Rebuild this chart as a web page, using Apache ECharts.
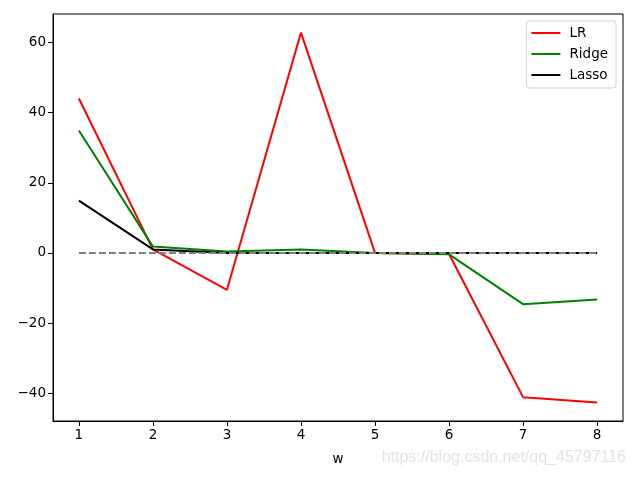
<!DOCTYPE html>
<html><head><meta charset="utf-8">
<script src="https://cdn.jsdelivr.net/npm/echarts@6/dist/echarts.min.js"></script>
<style>html,body{margin:0;padding:0;background:#fff}#c{width:635px;height:478px}</style>
</head><body><div id="c"></div>
<script>
const xValues = [1, 2, 3, 4, 5, 6, 7, 8];
const lrValues = [44.0, 1.0, -10.5, 62.8, 0.0, -0.3, -41.1, -42.6];
const ridgeValues = [34.9, 1.8, 0.4, 1.0, 0.0, -0.4, -14.6, -13.3];
const lassoValues = [14.9, 1.0, 0.0, 0.0, 0.0, 0.0, 0.0, 0.0];
const zeroLine = [0, 0];
const xTicks = [1, 2, 3, 4, 5, 6, 7, 8];
const yTicks = [-40, -20, 0, 20, 40, 60];
const seriesNames = ['LR', 'Ridge', 'Lasso'];

const font = 'DejaVu Sans';
const pair = (xs, ys) => xs.map((x, i) => [x, ys[i]]);

const chart = echarts.init(document.getElementById('c'), null, {renderer: 'canvas'});
chart.setOption({
  animation: false,
  backgroundColor: '#fff',
  grid: {left: 53, right: 12, top: 14, bottom: 57, show: true, borderColor: '#000', borderWidth: 1, backgroundColor: 'transparent'},
  legend: {
    data: seriesNames, orient: 'vertical', right: 19, top: 21,
    icon: 'rect', itemWidth: 29, itemHeight: 2, itemGap: 5,
    padding: [4, 8, 5, 5],
    borderColor: '#d0d0d0', borderWidth: 1, borderRadius: 3,
    textStyle: {fontFamily: font, fontSize: 13.5, color: '#000', lineHeight: 16, padding: [0, 0, 0, 4]}
  },
  xAxis: {
    type: 'value', min: 0.65, max: 8.35,
    name: 'w', nameLocation: 'middle', nameGap: 31,
    nameTextStyle: {fontFamily: font, fontSize: 13.5, color: '#000'},
    axisLine: {show: true, onZero: false, lineStyle: {color: '#000', width: 1}},
    splitLine: {show: false},
    axisTick: {show: true, inside: false, length: 5, lineStyle: {color: '#000', width: 1}, customValues: xTicks},
    axisLabel: {fontFamily: font, fontSize: 13.5, color: '#000', margin: 7, customValues: xTicks}
  },
  yAxis: {
    type: 'value', min: -47.9, max: 68.1,
    axisLine: {show: true, onZero: false, lineStyle: {color: '#000', width: 1}},
    splitLine: {show: false},
    axisTick: {show: true, inside: false, length: 5, lineStyle: {color: '#000', width: 1}, customValues: yTicks},
    axisLabel: {fontFamily: font, fontSize: 13.5, color: '#000', margin: 7, customValues: yTicks,
      formatter: v => (v < 0 ? '\u2212' + Math.abs(v) : String(v))}
  },
  series: [
    {name: 'LR', type: 'line', data: pair(xValues, lrValues), showSymbol: false, symbol: 'none',
      lineStyle: {color: '#ff0000', width: 2}, itemStyle: {color: '#ff0000'}, z: 2},
    {name: 'Ridge', type: 'line', data: pair(xValues, ridgeValues), showSymbol: false, symbol: 'none',
      lineStyle: {color: '#008000', width: 2}, itemStyle: {color: '#008000'}, z: 3},
    {name: 'Lasso', type: 'line', data: pair(xValues, lassoValues), showSymbol: false, symbol: 'none',
      lineStyle: {color: '#000000', width: 2}, itemStyle: {color: '#000000'}, z: 4},
    {name: 'zero', type: 'line', data: pair([xValues[0], xValues[xValues.length - 1]], zeroLine), showSymbol: false, symbol: 'none',
      lineStyle: {color: '#808080', width: 2, type: [7, 3]}, z: 5}
  ],
  graphic: [{
    type: 'text', right: 9, top: 450,
    style: {text: 'https://blog.csdn.net/qq_45797116', fill: '#e2e2e2', font: '16px "Liberation Sans", Arial, sans-serif'}
  }]
});
</script></body></html>
